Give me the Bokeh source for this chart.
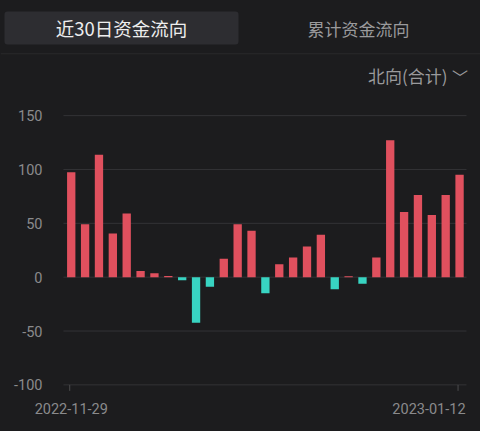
from bokeh.plotting import figure
from bokeh.models import ColumnDataSource, Label, BoxAnnotation, Range1d
from bokeh.embed import file_html
from bokeh.resources import INLINE

# ---- data ----
days = list(range(29))
flows = [97.5, 49.2, 113.6, 40.6, 59.1, 5.8, 3.7, 1.2, -2.8, -42.3, -9.0, 17.0, 49.2,
         43.0, -14.9, 12.1, 18.3, 28.5, 39.3, -11.1, 0.9, -6.2, 18.3, 127.2, 60.4,
         76.4, 57.8, 76.4, 95.0]
y_ticks = [-100, -50, 0, 50, 100, 150]
y_tick_labels = ["-100", "-50", "0", "50", "100", "150"]
x_tick_labels = ["2022-11-29", "2023-01-12"]
tabs = ["近30日资金流向", "累计资金流向"]
selector = "北向(合计)"

BG = "#1c1c1e"
RED = "#e0505e"
TEAL = "#38d4c2"
GRID = "#333336"
TXT = "#8a8a8c"

W, H = 480, 431
X0, X1 = -5.1, 29.51          # full-canvas x range (bar slots)
Y0, Y1 = -143.3, 256.9        # full-canvas y range (flow units)
PX_X = W / (X1 - X0)
PX_Y = H / (Y1 - Y0)
PLOT_L, PLOT_R = -0.56, 28.5  # extent of the plotting area in x units

colors = [RED if v >= 0 else TEAL for v in flows]
src = ColumnDataSource(dict(day=days, flow=flows, color=colors))

p = figure(width=W, height=H, output_backend="svg", toolbar_location=None,
           x_range=Range1d(X0, X1), y_range=Range1d(Y0, Y1),
           x_axis_location=None, y_axis_location=None,
           min_border=0, min_border_left=0, min_border_right=0,
           min_border_top=0, min_border_bottom=0,
           background_fill_color=BG, border_fill_color=BG, outline_line_color=None)
p.xgrid.visible = False
p.ygrid.visible = False

# horizontal grid lines limited to the plotting area
n = len(y_ticks)
p.segment(x0=[PLOT_L] * n, y0=y_ticks, x1=[PLOT_R] * n, y1=y_ticks,
          line_color=GRID, line_width=1)

p.vbar(x="day", top="flow", bottom=0, width=0.6, fill_color="color", line_color=None, source=src)

# y tick labels
p.text(x=[PLOT_L - 21 / PX_X] * n, y=y_ticks, text=y_tick_labels,
       text_align="right", text_baseline="middle", text_font={"value": "Roboto"},
       text_font_size={"value": "14.5px"}, text_color=TXT)

# x ticks at first / last day
tick_x = [d - 1.5 / PX_X for d in (days[0], days[-1])]
bottom = y_ticks[0]
p.segment(x0=tick_x, y0=[bottom] * 2, x1=tick_x, y1=[bottom - 6 / PX_Y] * 2,
          line_color="#4c4c4e", line_width=1)
lab_y = bottom - 23.5 / PX_Y
p.text(x=[days[0]], y=[lab_y], text=[x_tick_labels[0]], text_align="center",
       text_baseline="middle", text_font={"value": "Roboto"},
       text_font_size={"value": "14.5px"}, text_color=TXT)
p.text(x=[days[-1]], y=[lab_y], text=[x_tick_labels[1]], x_offset=6, text_align="right",
       text_baseline="middle", text_font={"value": "Roboto"},
       text_font_size={"value": "14.5px"}, text_color=TXT)

# header (screen units, measured from the bottom-left corner)
p.add_layout(BoxAnnotation(left=4, right=238, top=H - 11, bottom=H - 44,
                           left_units="screen", right_units="screen",
                           top_units="screen", bottom_units="screen",
                           fill_color="#2d2d31", fill_alpha=1, line_color=None, border_radius=3))
p.add_layout(BoxAnnotation(left=0, right=W, top=H - 52.8, bottom=H - 53.8,
                           left_units="screen", right_units="screen",
                           top_units="screen", bottom_units="screen",
                           fill_color="#29292b", fill_alpha=1, line_color=None))
p.add_layout(Label(x=121, y=H - 27.5, x_units="screen", y_units="screen", text=tabs[0],
                   text_align="center", text_baseline="middle", text_font="Noto Sans CJK SC",
                   text_font_size="18.5px", text_color="#eeeeee"))
p.add_layout(Label(x=358, y=H - 27.5, x_units="screen", y_units="screen", text=tabs[1],
                   text_align="center", text_baseline="middle", text_font="Noto Sans CJK SC",
                   text_font_size="17px", text_color="#9a9a9c"))
p.add_layout(Label(x=447, y=H - 75, x_units="screen", y_units="screen", text=selector,
                   text_align="right", text_baseline="middle", text_font="Noto Sans CJK SC",
                   text_font_size="17px", text_color="#9a9a9c"))
p.add_layout(Label(x=459.5, y=H - 76, x_units="screen", y_units="screen", text="﹀",
                   text_align="center", text_baseline="middle", text_font="Noto Sans CJK SC",
                   text_font_size="16px", text_color="#9a9a9c"))

html = file_html(p, INLINE)
html = html.replace("<head>", "<head><style>html,body{background:#1c1c1e;}</style>", 1)
open("out.html", "w").write(html)
